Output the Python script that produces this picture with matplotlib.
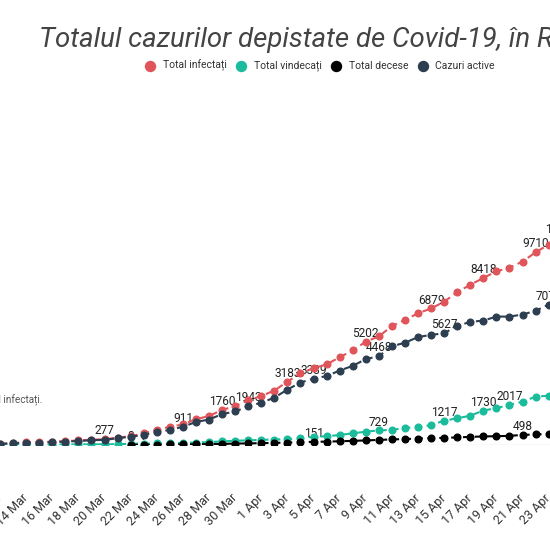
import pandas as pd
import matplotlib.pyplot as plt
import matplotlib.dates as mdates
from matplotlib.lines import Line2D

plt.rcParams['font.family'] = ['Roboto', 'DejaVu Sans']

dates = pd.date_range("2020-03-12", "2020-04-24", freq="D")

total_infectati = [49, 89, 123, 131, 158, 184, 217, 260, 277, 367,
                   433, 576, 762, 906, 1029, 1292, 1452, 1760, 1952, 2245,
                   2460, 2738, 3183, 3613, 3864, 4057, 4417, 4761, 5202, 5467,
                   5990, 6300, 6633, 6879, 7216, 7707, 8067, 8418, 8746, 8936,
                   9242, 9710, 10096, 10417]
total_vindecati = [6, 9, 9, 9, 9, 16, 19, 19, 25, 31,
                   52, 64, 73, 79, 94, 115, 139, 169, 206, 220,
                   252, 266, 283, 340, 406, 430, 494, 580, 660, 729,
                   746, 862, 880, 999, 1217, 1337, 1468, 1730, 1846, 2017,
                   2174, 2426, 2478, 2600]
total_decese = [None] * 10 + [4, 7, 11, 17, 23, 26, 37, 43, 65, 69,
                              85, 94, 115, 133, 151, 161, 177, 200, 220, 248,
                              270, 291, 316, 336, 351, 372, 400, 421, 434, 451,
                              498, 524, 545, 567]
cazuri_active = [43, 76, 106, 112, 140, 160, 190, 230, 250, 330,
                 408, 494, 660, 746, 911, 1150, 1276, 1548, 1681, 1943,
                 2123, 2378, 2785, 3140, 3339, 3466, 3746, 3981, 4322, 4468,
                 4974, 5147, 5437, 5544, 5627, 5998, 6199, 6267, 6466, 6468,
                 6570, 6760, 7073, 7250]

series_names = ["Total infectați", "Total vindecați", "Total decese", "Cazuri active"]
series_colors = ["#e0555a", "#1bbc9b", "#000000", "#2c3e50"]

# etichete de valori (serie, data, text)
label_series = [0, 0, 0, 0, 0, 0, 0, 0,
                3, 3, 3, 3, 3, 3,
                1, 1, 1, 1,
                2, 2, 2, 2]
label_dates = ["2020-03-20", "2020-03-29", "2020-04-03", "2020-04-09", "2020-04-14",
               "2020-04-18", "2020-04-22", "2020-04-24",
               "2020-03-26", "2020-03-31", "2020-04-05", "2020-04-10", "2020-04-15",
               "2020-04-23",
               "2020-04-10", "2020-04-15", "2020-04-18", "2020-04-20",
               "2020-03-22", "2020-03-23", "2020-04-05", "2020-04-21"]
label_texts = ["277", "1760", "3183", "5202", "6879", "8418", "9710", "10417",
               "911", "1943", "3339", "4468", "5627", "7073",
               "729", "1217", "1730", "2017",
               "8", "7", "151", "498"]

tick_dates = pd.date_range("2020-03-12", "2020-04-24", freq="2D")

W, H = 550, 550
fig = plt.figure(figsize=(5.5, 5.5), dpi=100)
base_px = 444.8
top_px = 90
px_per_case = 0.019826
ax = fig.add_axes([0, (H - base_px) / H, 1, (base_px - top_px) / H])

df = pd.DataFrame({
    series_names[0]: total_infectati,
    series_names[1]: total_vindecati,
    series_names[2]: total_decese,
    series_names[3]: cazuri_active,
}, index=dates, dtype=float)

ax.axhline(0, color="#e0e0e0", lw=1, zorder=1)
for name, col in zip(series_names, series_colors):
    ax.plot(df.index, df[name], color=col, lw=1.5, ls=(0, (3.5, 2.2)),
            marker="o", ms=4.8, zorder=3)

for s, d, t in zip(label_series, label_dates, label_texts):
    d = pd.Timestamp(d)
    ax.annotate(t, (d, df.loc[d, series_names[s]]), xytext=(0, 6),
                textcoords="offset points", ha="center", va="center",
                fontsize=8.6, color="#222222", zorder=2, annotation_clip=False)

ref = mdates.date2num(pd.Timestamp("2020-03-22"))
day_px = 13.333
ax.set_xlim(ref - 122 / day_px, ref + (W - 122) / day_px)
ax.set_ylim(0, (base_px - top_px) / px_per_case)

ax.set_xticks(tick_dates)
ax.set_xticklabels([f"{d.day} {d.strftime('%b')}" for d in tick_dates])
ax.tick_params(axis="x", length=0, pad=37, labelsize=9, labelcolor="#333333")
for lab in ax.get_xticklabels():
    lab.set_rotation(45)
    lab.set_ha("right")
    lab.set_va("center")
    lab.set_rotation_mode("anchor")
ax.set_yticks([])
for sp in ax.spines.values():
    sp.set_visible(False)

fig.text(38.5 / W, 1 - 47 / H, "Totalul cazurilor depistate de Covid-19, în România",
         fontsize=19.9, style="italic", color="#444444", ha="left", va="baseline")

# legenda, desenata manual ca sa fie compacta
renderer = fig.canvas.get_renderer()
leg_y = 1 - 65.7 / H
probe = fig.text(0, 0, series_names[0], fontsize=10)
leg_size = 10 * 64 / probe.get_window_extent(renderer).width
probe.remove()
leg_texts = [fig.text(0, leg_y, n, fontsize=leg_size, color="#333333", va="center")
             for n in series_names]
widths = [t.get_window_extent(renderer).width for t in leg_texts]
gap_in, gap_out = 12.5, 14.7
total = 5 + sum(gap_in + w for w in widths) + gap_out * (len(widths) - 1)
x = 320 - total / 2 + 5
for t, w, c in zip(leg_texts, widths, series_colors):
    fig.add_artist(Line2D([x / W], [leg_y], ls="", marker="o", ms=7.2, color=c,
                          transform=fig.transFigure))
    t.set_x((x + gap_in) / W)
    x += gap_in + w + gap_out

fig.text(42 / W, 1 - 400.7 / H, "Cazurile active se calculează din Total infectați.",
         fontsize=7.2, color="#555555", ha="right", va="center")

fig.savefig("out.png", dpi=100)
